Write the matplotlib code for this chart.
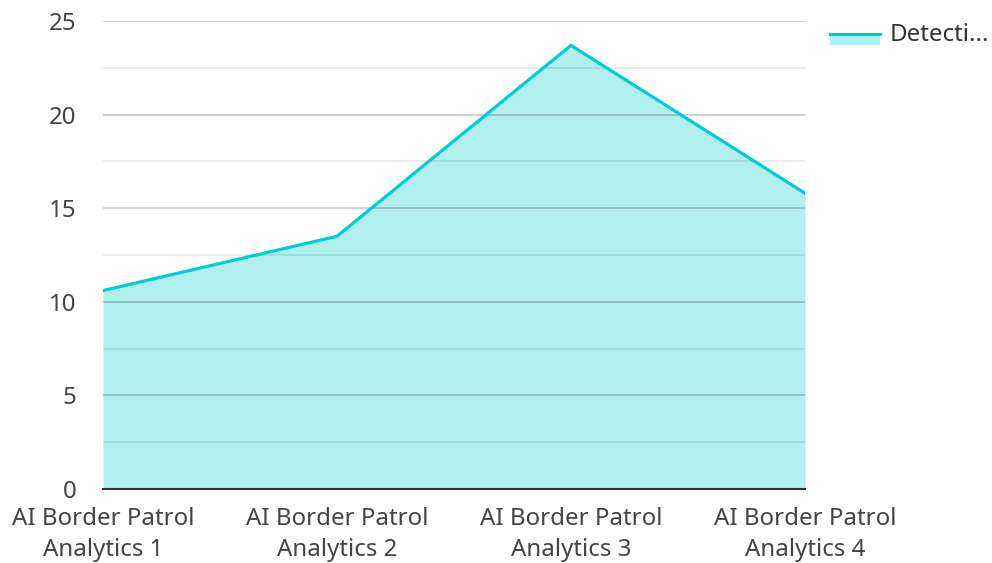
import matplotlib
matplotlib.use("Agg")
import matplotlib.pyplot as plt
from matplotlib.lines import Line2D
from matplotlib.patches import Rectangle

categories = ["AI Border Patrol\nAnalytics 1", "AI Border Patrol\nAnalytics 2",
              "AI Border Patrol\nAnalytics 3", "AI Border Patrol\nAnalytics 4"]
values = [10.6, 13.5, 23.7, 15.8]
series_name = "Detecti..."
y_ticks = [0, 5, 10, 15, 20, 25]

plt.rcParams['font.family'] = ['Noto Sans', 'DejaVu Sans']

line_color = "#00CED1"
fill_color = "#B2EFEF"
W, H = 992, 563
fs = 17.3

fig = plt.figure(figsize=(W/100, H/100), dpi=100)
ax = fig.add_axes([103/W, (H-489)/H, (805-103)/W, (489-21)/H])

x = list(range(len(categories)))
ax.fill_between(x, values, 0, color=fill_color, linewidth=0, zorder=1)
ax.plot(x, values, color=line_color, linewidth=2.3, zorder=3)

ax.set_xlim(0, len(categories) - 1)
ax.set_ylim(0, 25)
ax.set_yticks(y_ticks)
ax.set_yticks([2.5, 7.5, 12.5, 17.5, 22.5], minor=True)
ax.set_xticks(x)
ax.set_xticklabels(categories, linespacing=1.38)

ax.grid(axis='y', which='major', color='#000000', alpha=0.2, linewidth=1.3, zorder=2)
ax.grid(axis='y', which='minor', color='#000000', alpha=0.09, linewidth=1.3, zorder=2)
ax.set_axisbelow(False)

for s in ['top', 'right', 'left']:
    ax.spines[s].set_visible(False)
ax.spines['bottom'].set_color('#333333')
ax.spines['bottom'].set_linewidth(1.5)
ax.spines['bottom'].set_zorder(4)

ax.tick_params(axis='both', which='both', length=0, labelsize=fs, labelcolor='#444444')
ax.tick_params(axis='y', pad=19)
ax.tick_params(axis='x', pad=13)

# legend (manual, in figure pixel coordinates)
fig.add_artist(Rectangle((830/W, 1-45/H), 50/W, 12/H, transform=fig.transFigure,
                         facecolor=fill_color, edgecolor='none'))
fig.add_artist(Line2D([830/W, 880/W], [1-34/H, 1-34/H], transform=fig.transFigure,
                      color=line_color, linewidth=2.3))
fig.text(890/W, 1-35/H, series_name, fontsize=fs, color='#333333',
         ha='left', va='center')

fig.savefig("out.png", dpi=100)
